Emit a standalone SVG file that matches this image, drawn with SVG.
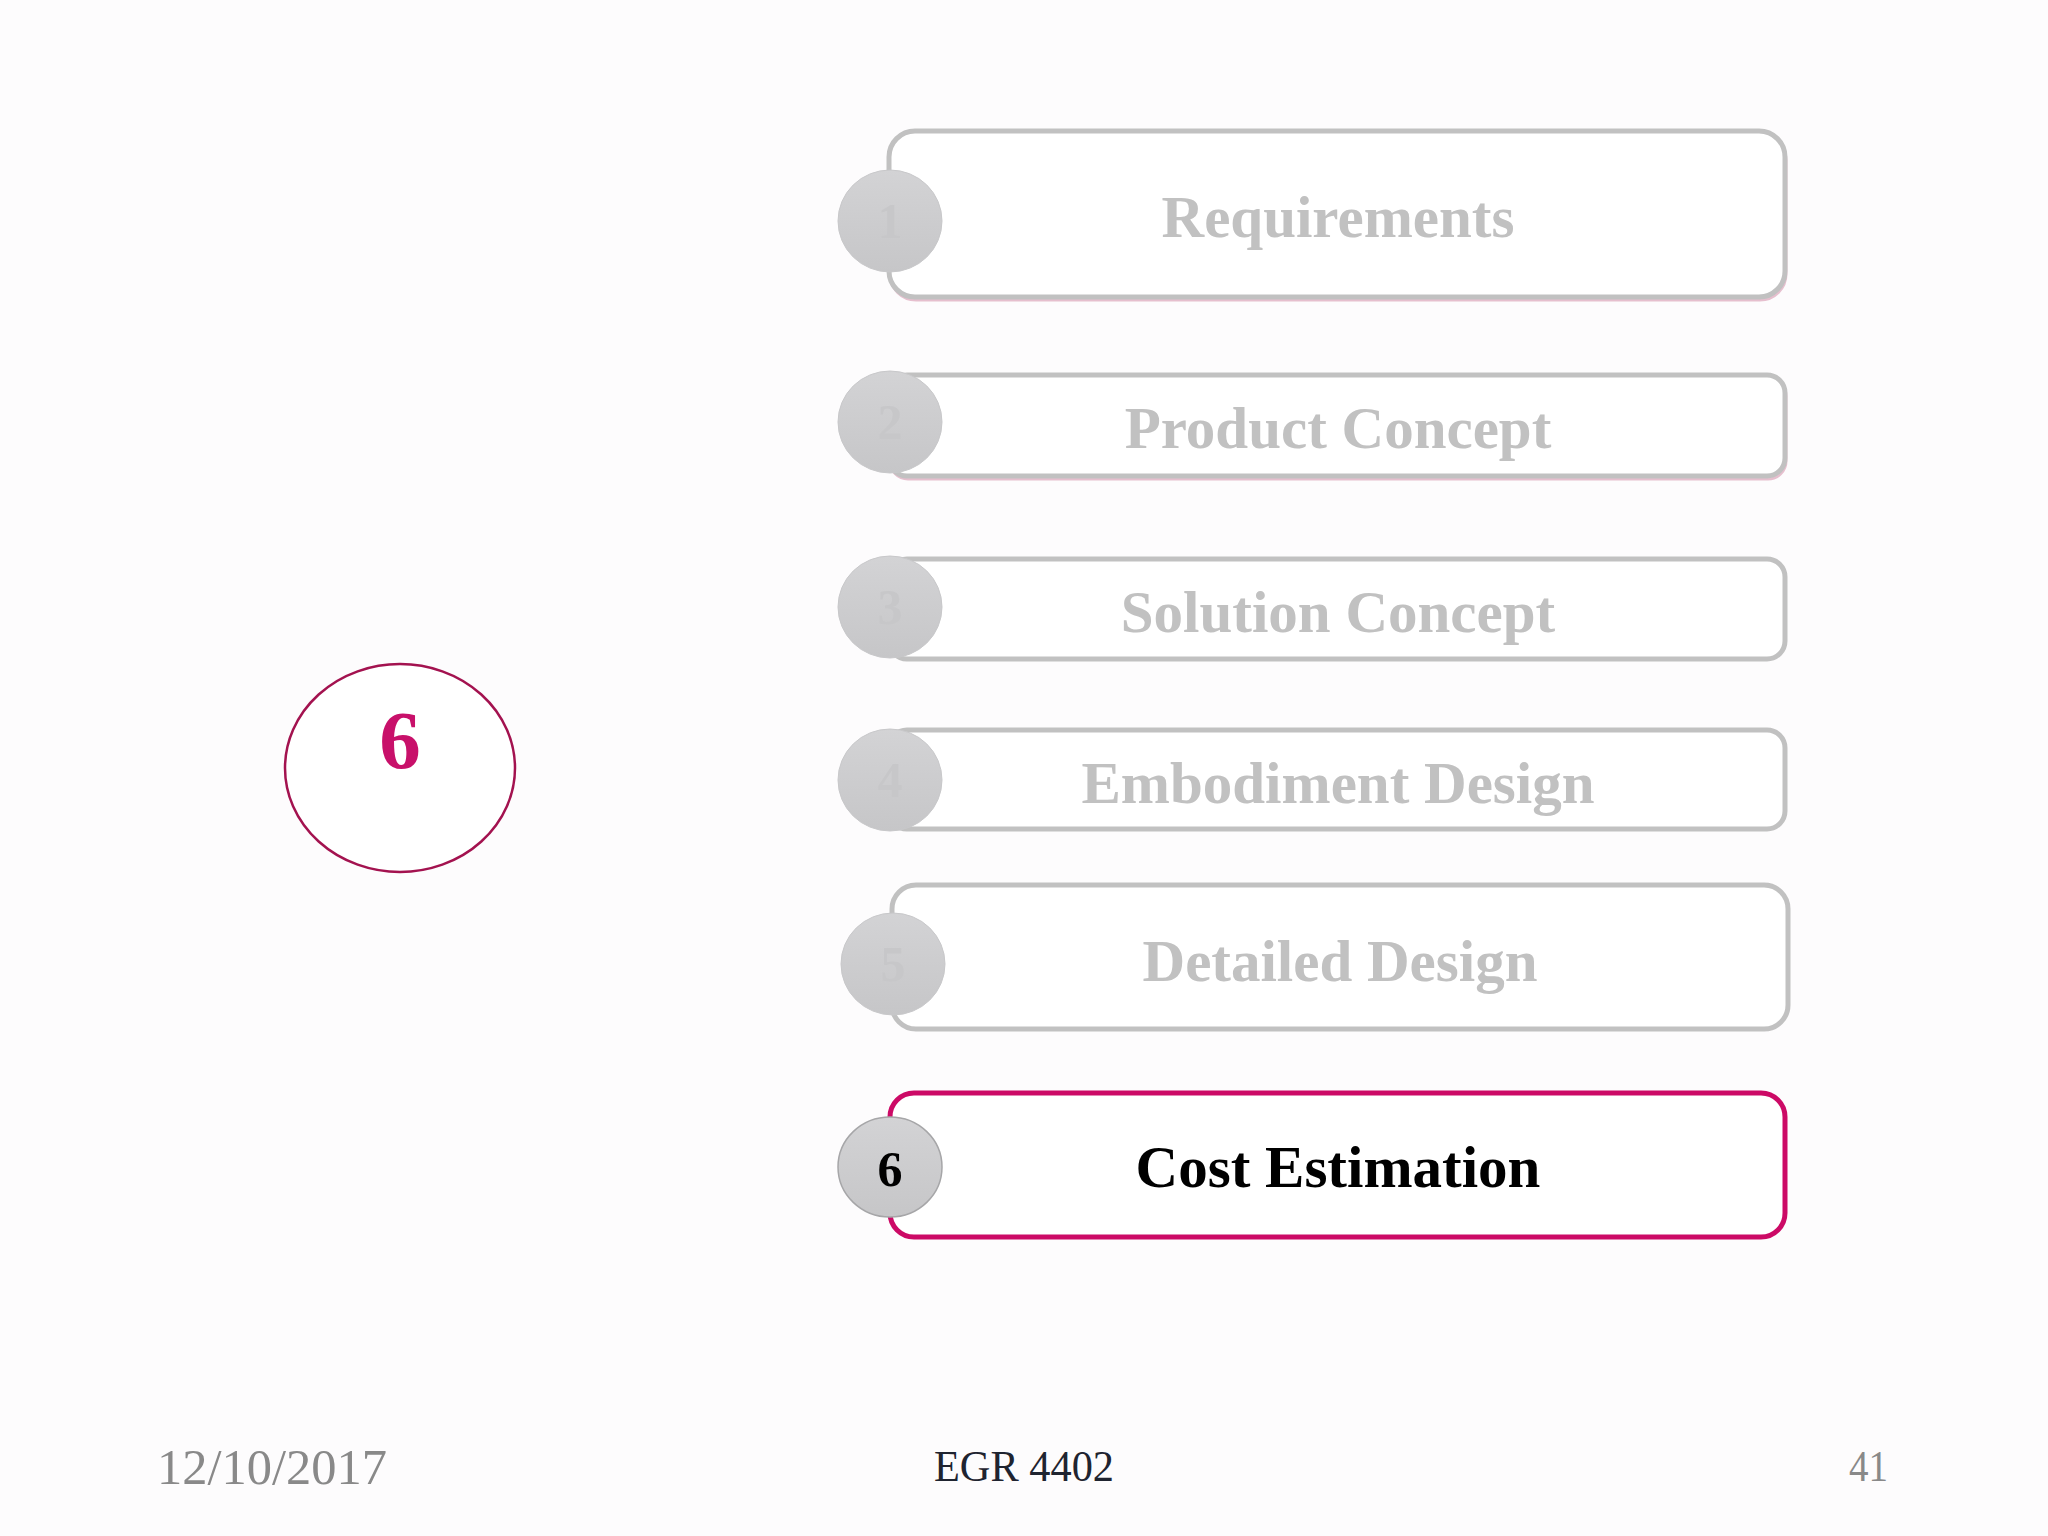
<svg xmlns="http://www.w3.org/2000/svg" width="2048" height="1536" viewBox="0 0 2048 1536">
<defs>
<linearGradient id="cg" x1="0" y1="0" x2="0" y2="1">
<stop offset="0" stop-color="#d3d3d5"/>
<stop offset="1" stop-color="#c6c6c8"/>
</linearGradient>
<style>
.box{fill:#ffffff;stroke:#c1c1c1;stroke-width:5}
.boxa{fill:#ffffff;stroke:#cc0a66;stroke-width:5}
.shadow{fill:none;stroke:#e6bfce;stroke-width:3}
.dot{fill:url(#cg);stroke:#c8c8ca;stroke-width:1}
.dota{fill:url(#cg);stroke:#a6a6a8;stroke-width:1.5}
.lbl{font-family:"Liberation Serif","Times New Roman",serif;font-weight:bold;font-size:59px;fill:#c1c1c1;text-anchor:middle}
.lbla{font-family:"Liberation Serif","Times New Roman",serif;font-weight:bold;font-size:59px;fill:#000000;text-anchor:middle}
.num{font-family:"Liberation Serif","Times New Roman",serif;font-weight:bold;font-size:50px;fill:#c7c7c9;text-anchor:middle}
.numa{font-family:"Liberation Serif","Times New Roman",serif;font-weight:bold;font-size:50px;fill:#000000;text-anchor:middle}
.foot{font-family:"Liberation Serif","Times New Roman",serif}
</style>
</defs>
<rect x="0" y="0" width="2048" height="1536" fill="#fdfcfd"/>
<g id="connectors"></g>
<g id="big-marker">
<ellipse cx="400" cy="768" rx="115" ry="104" fill="#ffffff" stroke="#a3124f" stroke-width="2.5"/>
<text x="400" y="768" font-family="Liberation Serif, Times New Roman, serif" font-weight="bold" font-size="83" fill="#c8106a" text-anchor="middle">6</text>
</g>
<g id="step1">
<rect class="shadow" x="890" y="134" width="896" height="166" rx="26"/>
<rect class="box" x="889" y="131" width="896" height="166" rx="26"/>
<ellipse class="dot" cx="890" cy="221" rx="52" ry="51"/>
<text class="num" x="890" y="238">1</text>
<text class="lbl" x="1338" y="237">Requirements</text>
</g>
<g id="step2">
<rect class="shadow" x="890" y="378" width="896" height="101" rx="18"/>
<rect class="box" x="889" y="375" width="896" height="101" rx="18"/>
<ellipse class="dot" cx="890" cy="422" rx="52" ry="51"/>
<text class="num" x="890" y="439">2</text>
<text class="lbl" x="1338" y="448">Product Concept</text>
</g>
<g id="step3">
<rect class="box" x="889" y="559" width="896" height="100" rx="18"/>
<ellipse class="dot" cx="890" cy="607" rx="52" ry="51"/>
<text class="num" x="890" y="624">3</text>
<text class="lbl" x="1338" y="632">Solution Concept</text>
</g>
<g id="step4">
<rect class="box" x="889" y="730" width="896" height="99" rx="18"/>
<ellipse class="dot" cx="890" cy="780" rx="52" ry="51"/>
<text class="num" x="890" y="797">4</text>
<text class="lbl" x="1338" y="803">Embodiment Design</text>
</g>
<g id="step5">
<rect class="box" x="892" y="885" width="896" height="144" rx="24"/>
<ellipse class="dot" cx="893" cy="964" rx="52" ry="51"/>
<text class="num" x="893" y="981">5</text>
<text class="lbl" x="1340" y="981">Detailed Design</text>
</g>
<g id="step6">
<rect class="boxa" x="890" y="1093" width="895" height="144" rx="24"/>
<ellipse class="dota" cx="890" cy="1167" rx="52" ry="50"/>
<text class="numa" x="890" y="1186">6</text>
<text class="lbla" x="1338" y="1187">Cost Estimation</text>
</g>
<g id="footer">
<text class="foot" x="157" y="1484" fill="#898989" font-size="50" textLength="230" lengthAdjust="spacingAndGlyphs">12/10/2017</text>
<text class="foot" x="934" y="1481" fill="#1f2430" font-size="44" textLength="180" lengthAdjust="spacingAndGlyphs">EGR 4402</text>
<text class="foot" x="1849" y="1481" fill="#898989" font-size="44" textLength="39" lengthAdjust="spacingAndGlyphs">41</text>
</g>
</svg>
